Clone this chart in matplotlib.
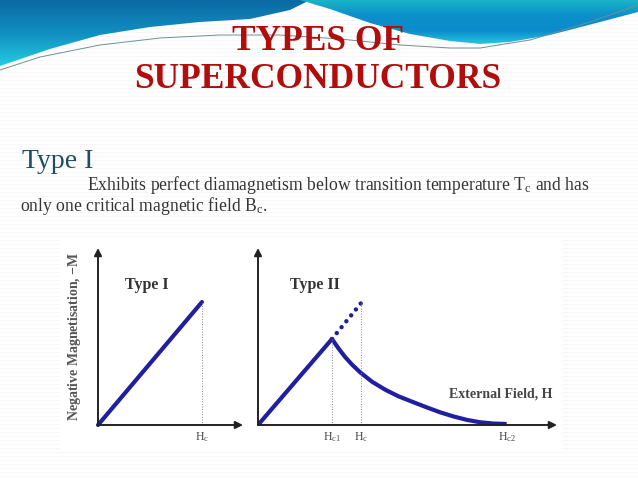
import numpy as np
import matplotlib
matplotlib.use("Agg")
import matplotlib.pyplot as plt
from matplotlib.colors import LinearSegmentedColormap
from matplotlib.patches import Polygon, Rectangle

plt.rcParams['font.family'] = ['Liberation Serif', 'DejaVu Serif']
plt.rcParams['mathtext.fontset'] = 'custom'
plt.rcParams['mathtext.rm'] = 'Liberation Serif'
plt.rcParams['mathtext.it'] = 'Liberation Serif:italic'
plt.rcParams['mathtext.bf'] = 'Liberation Serif:bold'
plt.rcParams['mathtext.default'] = 'regular'

# ---- data (field H in units of Hc1, magnetisation -M in units of M at Hc1) ----
type1_H = [0.0, 1.405]
type1_M = [0.0, 1.43]

type2_rise_H = [0.0, 1.0]
type2_rise_M = [0.0, 1.0]
type2_meissner_H = [1.0, 1.39]      # dotted continuation up to Hc
type2_meissner_M = [1.0, 1.415]
type2_mixed_H = [1.0, 1.09, 1.18, 1.27, 1.38, 1.54, 1.72, 1.90, 2.10, 2.28,
                 2.46, 2.64, 2.82, 3.00, 3.18, 3.36]
type2_mixed_M = [1.0, 0.888, 0.788, 0.703, 0.613, 0.504, 0.41, 0.333, 0.265, 0.205,
                 0.148, 0.10, 0.06, 0.032, 0.017, 0.012]

type1_ticks = [1.405]
type1_ticklabels = ['H$_c$']
type2_ticks = [1.0, 1.39, 3.36]
type2_ticklabels = ['H$_{c1}$', 'H$_c$', 'H$_{c2}$']

W, H = 638, 478
fig = plt.figure(figsize=(W / 100, H / 100), dpi=100)

########################################
# slide background
########################################
bg = fig.add_axes([0, 0, 1, 1], zorder=-5)
bg.axis('off')

for y in range(0, H, 4):
    bg.plot([0, W], [y, y], color='#f6f6f6', lw=0.6, zorder=0)

# left wave
left_wave = Polygon([(0, 0), (310, 0), (290, 10), (250, 19), (200, 22), (150, 27),
                     (100, 35), (50, 49), (0, 66)], closed=True, fc='none', ec='none')
bg.add_patch(left_wave)
cmap_l = LinearSegmentedColormap.from_list('l', ['#0a6aa3', '#1290c2', '#25d0e2'])
grad = np.linspace(0, 1, 100)[:, None] * np.ones((1, 10))
im = bg.imshow(grad, extent=[0, 320, 68, 0], cmap=cmap_l, aspect='auto', zorder=1)
im.set_clip_path(left_wave)

# right wave
right_wave = Polygon([(300, 0), (W, 0), (W, 12), (600, 22), (550, 35), (510, 42),
                      (480, 44), (450, 41), (410, 34), (370, 23), (330, 9)],
                     closed=True, fc='none', ec='none')
bg.add_patch(right_wave)
cmap_r = LinearSegmentedColormap.from_list('r', ['#1bb4c6', '#0c8fca', '#0a8ccb', '#2ccfe2'])
im2 = bg.imshow(grad, extent=[300, W, 46, 0], cmap=cmap_r, aspect='auto', zorder=1)
im2.set_clip_path(right_wave)

# thin swoosh line
bg.plot([0, 40, 100, 160, 220, 280, 340, 400, 450, 480, 530, 590, W],
        [70, 57, 45, 38, 35, 35, 39, 45, 48, 48, 40, 22, 5],
        color='#6f8f99', lw=0.7, zorder=2)
bg.set_xlim(0, W)
bg.set_ylim(H, 0)

# white picture box for the chart
bg.add_patch(Rectangle((60, 240), 502, 210, fc='white', ec='none', zorder=3))

# titles and text
title_col = '#b00d0d'
bg.text(318, 50, 'TYPES OF', ha='center', va='baseline', fontsize=25.5,
        fontweight='bold', color=title_col, zorder=4)
bg.text(318, 88, 'SUPERCONDUCTORS', ha='center', va='baseline', fontsize=25.5,
        fontweight='bold', color=title_col, zorder=4)
bg.text(22, 168, 'Type I', ha='left', va='baseline', fontsize=20,
        color='#1d4f5c', zorder=4)
bg.text(87, 190, 'Exhibits perfect diamagnetism below transition temperature T$_c$ and has',
        ha='left', va='baseline', fontsize=12.7, color='#333333', zorder=4)
bg.text(20, 211, 'only one critical magnetic field B$_c$.',
        ha='left', va='baseline', fontsize=12.7, color='#333333', zorder=4)

########################################
# the two magnetisation plots
########################################
blue = '#1f1fa0'
axis_col = '#222222'
xpx_per_unit = 74.0
ypx_per_unit = 86.0


def panel(x0, x1, y0=425, ytop=248):
    ax = fig.add_axes([x0 / W, (H - y0) / H, (x1 - x0) / W, (y0 - ytop) / H])
    ax.set_xlim(0, (x1 - x0) / xpx_per_unit)
    ax.set_ylim(0, (y0 - ytop) / ypx_per_unit)
    ax.patch.set_alpha(0)
    for s in ax.spines.values():
        s.set_visible(False)
    for end in [(1, 0), (0, 1)]:
        ax.annotate('', xy=end, xytext=(0, 0), xycoords='axes fraction',
                    arrowprops=dict(arrowstyle='-|>', color=axis_col, lw=1.4,
                                    mutation_scale=11, shrinkA=0, shrinkB=0))
    ax.set_yticks([])
    ax.tick_params(axis='x', length=0, pad=4, labelsize=8.5, labelcolor='#444444')
    return ax


ax1 = panel(98, 243)
ax1.plot(type1_H, type1_M, color=blue, lw=3, solid_capstyle='round', clip_on=False)
ax1.plot([type1_H[1]] * 2, [0, type1_M[1]], color='#888888', lw=0.7, ls=':')
ax1.set_xticks(type1_ticks, type1_ticklabels)
ax1.text(0.37, 1.58, 'Type I', fontsize=11.5, fontweight='bold', color='#333333')
ax1.text(-0.159, 0.503, 'Negative Magnetisation, $-$M', transform=ax1.transAxes,
         rotation=90, ha='center', va='center', fontsize=10, fontweight='bold',
         color='#555555')

ax2 = panel(258, 557)
ax2.plot(type2_rise_H, type2_rise_M, color=blue, lw=3, solid_capstyle='round')
ax2.plot(type2_meissner_H, type2_meissner_M, color=blue, lw=3.2,
         ls=(0, (0.01, 1.7)), dash_capstyle='round')
ax2.plot(type2_mixed_H, type2_mixed_M, color=blue, lw=3, solid_capstyle='butt',
         solid_joinstyle='round', clip_on=False)
ax2.plot([type2_ticks[0]] * 2, [0, type2_rise_M[1]], color='#888888', lw=0.7, ls=':')
ax2.plot([type2_ticks[1]] * 2, [0, type2_meissner_M[1]], color='#888888', lw=0.7, ls=':')
ax2.set_xticks(type2_ticks, type2_ticklabels)
ax2.text(0.43, 1.58, 'Type II', fontsize=11.5, fontweight='bold', color='#333333')
ax2.text(3.98, 0.32, 'External Field, H', ha='right', fontsize=10,
         fontweight='bold', color='#444444')

fig.savefig('out.png', dpi=100)
